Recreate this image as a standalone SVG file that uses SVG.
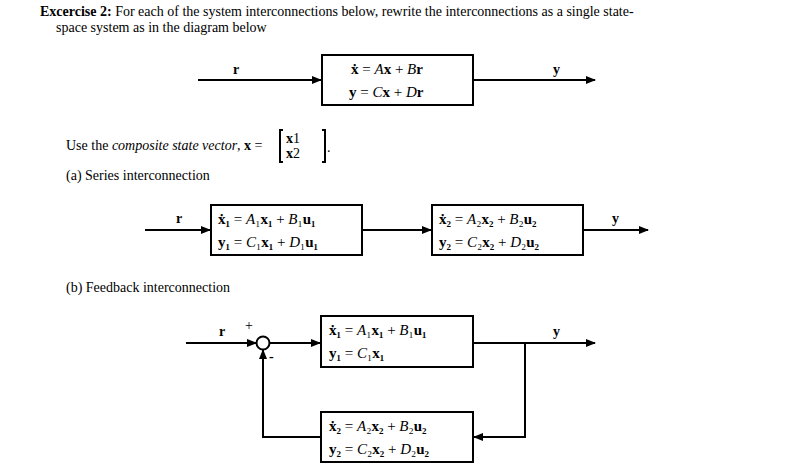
<svg xmlns="http://www.w3.org/2000/svg" width="800" height="475" viewBox="0 0 800 475">
<style>
text{font-family:"Liberation Serif","DejaVu Serif",serif;font-size:14px;fill:#000}
.eq{font-size:15px}
.b{font-weight:bold}
.i{font-style:italic}
.box{fill:#fff;stroke:#000;stroke-width:2}
.ln{fill:none;stroke:#000;stroke-width:2}
</style>
<defs><marker id="ah" markerWidth="10" markerHeight="8" refX="9" refY="4" orient="auto" markerUnits="userSpaceOnUse"><path d="M0,0L10,4L0,8z" fill="#000"/></marker></defs>
<rect width="800" height="475" fill="#fff"/>
<text x="40" y="16"><tspan class="b">Excercise 2:</tspan> For each of the system interconnections below, rewrite the interconnections as a single state-</text>
<text x="56" y="32">space system as in the diagram below</text>
<text x="66" y="150">Use the <tspan class="i">composite state vector</tspan>, <tspan class="b">x</tspan> =</text>
<path class="ln" stroke-width="1" d="M283,130h-3v32h3M322,130h3v32h-3"/>
<text x="286" y="143" font-size="12"><tspan class="b">x</tspan>1</text>
<text x="286" y="158" font-size="12"><tspan class="b">x</tspan>2</text>
<text x="327" y="152">.</text>
<text x="66" y="180">(a) Series interconnection</text>
<text x="66" y="292">(b) Feedback interconnection</text>
<g id="connectors">
<path class="ln" d="M198,80H321" marker-end="url(#ah)"/>
<path class="ln" d="M473,80H595" marker-end="url(#ah)"/>
<path class="ln" d="M145,230H210" marker-end="url(#ah)"/>
<path class="ln" d="M362,230H431" marker-end="url(#ah)"/>
<path class="ln" d="M583,230H648" marker-end="url(#ah)"/>
<path class="ln" d="M186,343H256" marker-end="url(#ah)"/>
<path class="ln" d="M269,343H320" marker-end="url(#ah)"/>
<path class="ln" d="M473,343H595" marker-end="url(#ah)"/>
<path class="ln" d="M525,343V437H474" marker-end="url(#ah)"/>
<path class="ln" d="M321,437H263V350" marker-end="url(#ah)"/>
</g>
<text x="233" y="74" class="b">r</text>
<text x="553" y="74" class="b">y</text>
<text x="176" y="223" class="b">r</text>
<text x="612" y="223" class="b">y</text>
<text x="219" y="336" class="b">r</text>
<text x="553" y="336" class="b">y</text>
<text x="245" y="330" font-size="16" font-family="Liberation Sans">+</text>
<text x="269" y="361" font-size="16" font-family="Liberation Sans" class="b">-</text>
<g id="sum"><circle cx="263" cy="343" r="6.5" fill="#fff" stroke="#000" stroke-width="2"/></g>
<g id="sys"><rect class="box" x="322" y="55" width="151" height="50"/>
<text class="eq" x="351" y="74"><tspan class="b">ẋ</tspan> = <tspan class="i">A</tspan><tspan class="b">x</tspan> + <tspan class="i">B</tspan><tspan class="b">r</tspan></text>
<text class="eq" x="349" y="97"><tspan class="b">y</tspan> = <tspan class="i">C</tspan><tspan class="b">x</tspan> + <tspan class="i">D</tspan><tspan class="b">r</tspan></text></g>
<g id="s1"><rect class="box" x="211" y="205" width="151" height="50"/>
<text class="eq" x="218" y="224"><tspan class="b">ẋ₁</tspan> = <tspan class="i">A</tspan>₁<tspan class="b">x₁</tspan> + <tspan class="i">B</tspan>₁<tspan class="b">u₁</tspan></text>
<text class="eq" x="218" y="247"><tspan class="b">y₁</tspan> = <tspan class="i">C</tspan>₁<tspan class="b">x₁</tspan> + <tspan class="i">D</tspan>₁<tspan class="b">u₁</tspan></text></g>
<g id="s2"><rect class="box" x="432" y="205" width="151" height="50"/>
<text class="eq" x="439" y="224"><tspan class="b">ẋ₂</tspan> = <tspan class="i">A</tspan>₂<tspan class="b">x₂</tspan> + <tspan class="i">B</tspan>₂<tspan class="b">u₂</tspan></text>
<text class="eq" x="439" y="247"><tspan class="b">y₂</tspan> = <tspan class="i">C</tspan>₂<tspan class="b">x₂</tspan> + <tspan class="i">D</tspan>₂<tspan class="b">u₂</tspan></text></g>
<g id="f1"><rect class="box" x="321" y="316" width="152" height="51"/>
<text class="eq" x="329" y="335"><tspan class="b">ẋ₁</tspan> = <tspan class="i">A</tspan>₁<tspan class="b">x₁</tspan> + <tspan class="i">B</tspan>₁<tspan class="b">u₁</tspan></text>
<text class="eq" x="329" y="358"><tspan class="b">y₁</tspan> = <tspan class="i">C</tspan>₁<tspan class="b">x₁</tspan></text></g>
<g id="f2"><rect class="box" x="321" y="412" width="152" height="50"/>
<text class="eq" x="329" y="431"><tspan class="b">ẋ₂</tspan> = <tspan class="i">A</tspan>₂<tspan class="b">x₂</tspan> + <tspan class="i">B</tspan>₂<tspan class="b">u₂</tspan></text>
<text class="eq" x="329" y="454"><tspan class="b">y₂</tspan> = <tspan class="i">C</tspan>₂<tspan class="b">x₂</tspan> + <tspan class="i">D</tspan>₂<tspan class="b">u₂</tspan></text></g>
</svg>
